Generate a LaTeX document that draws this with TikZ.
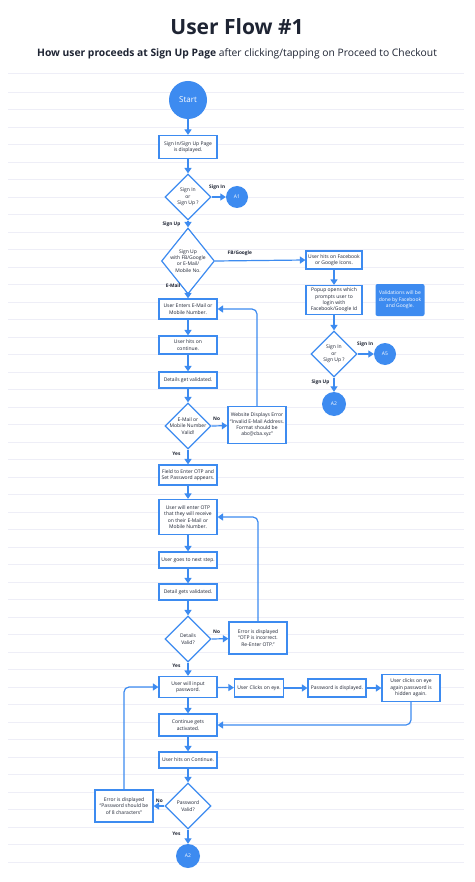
\documentclass[tikz,border=0pt]{standalone}
\usepackage{fontspec}
\setmainfont{Open Sans}
\usetikzlibrary{shapes.geometric,arrows.meta}
\definecolor{flowblue}{HTML}{3D8BF0}
\definecolor{inkdark}{HTML}{1E2433}
\definecolor{ruleline}{HTML}{EEEEF7}

\begin{document}
\begin{tikzpicture}[x=1pt,y=-1pt,
  box/.style={draw=flowblue,line width=1.2pt,fill=white,align=center,inner sep=1pt,
    minimum width=58pt,text=inkdark,font=\fontsize{5}{6.4}\selectfont},
  dia/.style={diamond,draw=flowblue,line width=1.2pt,fill=white,align=center,inner sep=-4pt,
    minimum width=46pt,minimum height=46pt,text=inkdark,font=\fontsize{5}{6.4}\selectfont},
  term/.style={circle,fill=flowblue,text=white,inner sep=0pt,minimum size=22pt,
    font=\fontsize{5}{6}\selectfont},
  lbl/.style={text=inkdark,inner sep=0pt,font=\fontsize{4.8}{5.5}\selectfont\bfseries},
  flow/.style={draw=flowblue,line width=1.2pt,-{Triangle[width=7pt,length=5.5pt]}}]
  \useasboundingbox[fill=white] (0,0) rectangle (474,882);
  % ruled background
  \draw[ruleline,line width=0.8pt] (8,73) -- (464,73);
  \foreach \k in {0,...,44}
    \draw[ruleline,line width=0.8pt] (8,{92+17.5*\k}) -- (464,{92+17.5*\k});
  % heading
  \node[text=inkdark,font=\fontsize{21}{24}\selectfont\bfseries] (title) at (237,27) {User Flow \#1};
  \node[text=inkdark,font=\fontsize{10.3}{12}\selectfont] (sub) at (237,54)
    {\textbf{How user proceeds at Sign Up Page} after clicking/tapping on Proceed to Checkout};

  % main column
  \node[term,minimum size=38pt,font=\fontsize{8}{9}\selectfont] (start) at (188,100) {Start};
  \node[box,minimum height=23pt] (disp) at (188,147) {Sign In/Sign Up Page\\is displayed.};
  \node[dia] (d1) at (188,197) {Sign In\\or\\Sign Up ?};
  \node[term] (a1) at (237,197) {A1};
  \node[dia,minimum width=53pt,minimum height=66pt] (d2) at (188,261) {Sign Up\\with FB/Google\\or E-Mail/\\Mobile No.};
  \node[box,minimum height=20pt] (email) at (188,309) {User Enters E-Mail or\\Mobile Number.};
  \node[box,minimum height=18pt] (cont) at (188,345) {User hits on\\continue.};
  \node[box,minimum height=16pt] (valid) at (188,380) {Details get validated.};
  \node[dia] (d3) at (188,426) {E-Mail or\\Mobile Number\\Valid!};
  \node[box,minimum height=37pt] (err1) at (257,425) {Website Displays Error\\``Invalid E-Mail Address.\\Format should be\\abc@cba.xyz''};
  \node[box,minimum height=20pt] (otpfield) at (188,475) {Field to Enter OTP and\\Set Password appears.};
  \node[box,minimum height=35pt] (otp) at (188,517) {User will enter OTP\\that they will receive\\on their E-Mail or\\Mobile Number.};
  \node[box,minimum height=16pt] (next) at (188,560) {User goes to next step.};
  \node[box,minimum height=16pt] (dval) at (188,592) {Detail gets validated.};
  \node[dia] (d4) at (188,639) {Details\\Valid?};
  \node[box,minimum height=32pt] (err2) at (258,638) {Error is displayed\\``OTP is incorrect.\\Re-Enter OTP.''};
  \node[box,minimum height=21pt] (pw) at (188,687) {User will input\\password.};
  \node[box,minimum width=49pt,minimum height=18pt] (eye) at (259,688) {User Clicks on eye.};
  \node[box,minimum height=18pt] (shown) at (337,688) {Password is displayed.};
  \node[box,minimum height=27pt] (hidden) at (411,688) {User clicks on eye\\again password is\\hidden again.};
  \node[box,minimum height=22pt] (act) at (188,725) {Continue gets\\activated.};
  \node[box,minimum height=16pt] (hits) at (188,760) {User hits on Continue.};
  \node[dia] (d5) at (188,806) {Password\\Valid?};
  \node[box,minimum height=32pt] (err3) at (124,806) {Error is displayed\\``Password should be\\of 8 characters''};
  \node[term,minimum size=24pt] (a2b) at (188,856) {A2};

  % social login column
  \node[box,minimum width=56pt,minimum height=18pt] (fb) at (334,260) {User hits on Facebook\\or Google Icons.};
  \node[box,minimum width=56pt,minimum height=29pt] (popup) at (334,300) {Popup opens which\\prompts user to\\login with\\Facebook/Google Id};
  \node[fill=flowblue,text=white,rounded corners=2pt,align=center,minimum width=49pt,minimum height=32pt,
    inner sep=1pt,font=\fontsize{5}{6.4}\selectfont] (note) at (400,300) {Validations will be\\done by Facebook\\and Google.};
  \node[dia] (d6) at (334,354) {Sign In\\or\\Sign Up ?};
  \node[term] (a5) at (385,354) {A5};
  \node[term,minimum size=24pt] (a2) at (334,404) {A2};

  % connectors
  \draw[flow] (start) -- (disp);
  \draw[flow] (disp) -- (d1);
  \draw[flow] (d1.east) -- node[lbl,pos=0,anchor=south west,xshift=-3pt,yshift=7pt] {Sign In} (a1);
  \draw[flow] (d1.south) -- node[lbl,pos=0,anchor=east,xshift=-7pt,yshift=-4pt] {Sign Up} (d2.north);
  \draw[flow] (d2.east) -- node[lbl,pos=0,anchor=south west,xshift=12pt,yshift=5pt] {FB/Google} (fb.west);
  \draw[flow] (d2.south) -- node[lbl,pos=0,anchor=east,xshift=-7pt,yshift=9pt] {E-Mail} (email);
  \draw[flow] (email) -- (cont);
  \draw[flow] (cont) -- (valid);
  \draw[flow] (valid) -- (d3);
  \draw[flow] (d3.east) -- node[lbl,pos=0,anchor=south west,xshift=1pt,yshift=5pt] {No} (err1);
  \draw[flow,rounded corners=5pt] (err1.north) |- (email.east);
  \draw[flow] (d3.south) -- node[lbl,pos=0,anchor=east,xshift=-7pt,yshift=-4pt] {Yes} (otpfield);
  \draw[flow] (otpfield) -- (otp);
  \draw[flow] (otp) -- (next);
  \draw[flow] (next) -- (dval);
  \draw[flow] (dval) -- (d4);
  \draw[flow] (d4.east) -- node[lbl,pos=0,anchor=south west,xshift=1pt,yshift=5pt] {No} (err2);
  \draw[flow,rounded corners=5pt] (err2.north) |- (otp.east);
  \draw[flow] (d4.south) -- node[lbl,pos=0,anchor=east,xshift=-7pt,yshift=-3pt] {Yes} (pw);
  \draw[flow] (pw) -- (eye);
  \draw[flow] (eye) -- (shown);
  \draw[flow] (shown) -- (hidden);
  \draw[flow,rounded corners=5pt] (hidden.south) |- (act.east);
  \draw[flow] (pw) -- (act);
  \draw[flow] (act) -- (hits);
  \draw[flow] (hits) -- (d5);
  \draw[flow] (d5.west) -- node[lbl,pos=0,anchor=south east,xshift=-1pt,yshift=3pt] {No} (err3);
  \draw[flow,rounded corners=5pt] (err3.north) |- (pw.west);
  \draw[flow] (d5.south) -- node[lbl,pos=0,anchor=east,xshift=-7pt,yshift=-4pt] {Yes} (a2b);
  \draw[flow] (fb) -- (popup);
  \draw[flow] (popup) -- (d6);
  \draw[flow] (d6.east) -- node[lbl,pos=0,anchor=south west,xshift=-1pt,yshift=7pt] {Sign In} (a5);
  \draw[flow] (d6.south) -- node[lbl,pos=0,anchor=east,xshift=-4pt,yshift=-5pt] {Sign Up} (a2);
\end{tikzpicture}
\end{document}
